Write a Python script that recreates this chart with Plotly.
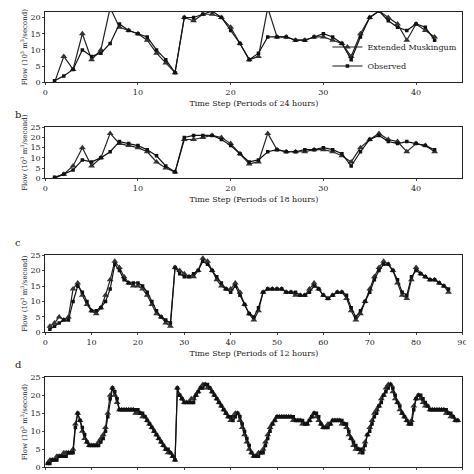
import plotly.graph_objects as go

# panel a: 24-hour periods
t_a = list(range(1, 43))
obs_a = [0.5, 2, 4, 10, 8, 9, 12, 18, 16, 15, 14, 10, 7, 3, 20, 20, 21, 22, 20, 16, 12, 7,
         9, 14, 14, 14, 13, 13, 14, 15, 14, 12, 7, 14, 20, 22, 19, 17, 16, 18, 17, 13]
mod_a = [0, 8, 4, 15, 7, 10, 23, 17, 16, 15, 13, 9, 6, 3, 20, 19, 21, 21, 20, 17, 12, 7,
         8, 23, 14, 14, 13, 13, 14, 14, 13, 12, 8, 15, 20, 22, 20, 18, 13, 18, 16, 14]

# panel b: 18-hour periods
t_b = list(range(1, 43))
obs_b = [0.5, 2, 4, 9, 8, 10, 13, 18, 17, 16, 14, 11, 6, 3, 20, 21, 21, 21, 19, 16, 12, 8,
         9, 13, 14, 13, 13, 14, 14, 15, 14, 12, 6, 13, 19, 21, 18, 17, 18, 17, 16, 14]
mod_b = [0, 2, 6, 15, 6, 10, 22, 17, 16, 15, 13, 8, 5, 3, 19, 19, 20, 21, 20, 17, 12, 7,
         8, 22, 14, 13, 13, 13, 14, 14, 13, 11, 8, 15, 19, 22, 19, 18, 13, 17, 16, 13]

# panel c: 12-hour periods
t_c = list(range(1, 88))
obs_c = [1, 2, 3, 4, 4, 10, 15, 13, 10, 7,
         7, 8, 10, 14, 22, 20, 17, 16, 16, 16,
         15, 13, 10, 7, 5, 4, 3,
         21, 19, 18, 18, 19, 20, 23, 22, 20, 18,
         16, 14, 13, 15, 12, 9, 6, 5, 8, 13,
         14, 14, 14, 14, 13, 13, 13, 12, 12, 13,
         15, 14, 12, 11, 12, 13, 13, 12, 8, 5,
         7, 10, 13, 17, 20, 22, 22, 20, 17, 13,
         12, 18, 20, 19, 18, 17, 17, 16, 15, 14]
mod_c = [2, 3, 5, 4, 5, 14, 16, 12, 9, 7,
         6, 8, 12, 17, 23, 21, 18, 16, 15, 15,
         14, 12, 9, 6, 5, 3, 2,
         21, 20, 19, 18, 18, 20, 24, 23, 20, 17,
         15, 14, 14, 16, 13, 9, 6, 4, 7, 13,
         14, 14, 14, 14, 13, 13, 12, 12, 12, 14,
         16, 14, 12, 11, 12, 13, 13, 11, 7, 4,
         6, 10, 14, 18, 21, 23, 22, 20, 16, 12,
         11, 17, 21, 19, 18, 17, 17, 16, 15, 13]

# panel d: 6-hour periods
t_d = list(range(1, 179))
obs_d = [1, 1, 2, 2, 2, 3, 3, 3, 3, 4, 4, 4,
         11, 15, 13, 11, 9, 7, 6, 6,
         6, 6, 6, 7, 8, 10, 14, 19, 22, 21,
         19, 16, 16, 16, 16, 16, 16, 16, 16, 16,
         15, 15, 14, 13, 12, 11, 10, 9, 8, 7, 6, 5, 5, 4, 3, 2,
         22, 20, 19, 18, 18, 18, 18, 18, 20, 21, 22, 22,
         23, 23, 22, 21, 20, 19, 18, 17, 16, 15, 14, 14, 13, 14,
         15, 14, 12, 10, 8, 6, 4, 3, 3, 3, 4, 4,
         6, 8, 10, 12, 13, 14, 14, 14, 14, 14, 14, 14, 14,
         13, 13, 13, 13, 12, 12, 13, 14, 15, 15, 14, 12, 11,
         11, 11, 12, 13, 13, 13, 13, 13, 12, 12, 10, 8, 7, 6, 5, 5,
         4, 6, 9, 10, 12, 14, 15, 17, 18, 20, 21, 22, 23,
         22, 20, 18, 17, 15, 14, 13, 12, 12, 16, 19, 20,
         20, 19, 18, 17, 16, 16, 16, 16, 16, 16, 16, 16, 15, 15, 14, 13, 13]
mod_d = [1, 2, 2, 2, 3, 3, 3, 4, 4, 4, 4, 5,
         12, 15, 13, 10, 8, 7, 6, 6,
         6, 6, 7, 8, 9, 11, 15, 20, 22, 20,
         18, 16, 16, 16, 16, 16, 16, 16, 15, 15,
         15, 14, 14, 13, 12, 11, 10, 9, 8, 7, 6, 5, 4, 4, 3, 2,
         22, 20, 19, 18, 18, 18, 19, 19, 20, 21, 22, 23,
         23, 22, 22, 21, 20, 19, 18, 17, 16, 15, 14, 13, 14, 15,
         15, 13, 11, 9, 7, 5, 4, 3, 3, 4, 4, 5,
         7, 9, 11, 12, 13, 14, 14, 14, 14, 14, 14, 14, 13,
         13, 13, 13, 12, 12, 12, 13, 14, 15, 14, 13, 12, 11,
         11, 12, 12, 13, 13, 13, 13, 12, 12, 11, 9, 8, 6, 5, 5, 4,
         5, 7, 9, 11, 13, 15, 16, 17, 19, 20, 22, 23, 23,
         21, 19, 18, 16, 15, 14, 13, 12, 13, 17, 19, 20,
         19, 18, 17, 17, 16, 16, 16, 16, 16, 16, 16, 15, 15, 14, 14, 13, 13]

panels = [
    ("a", t_a, obs_a, mod_a, [0, 45], 10, "Time Step (Periods of 24 hours)", [0.848, 1.0]),
    ("b", t_b, obs_b, mod_b, [0, 45], 10, "Time Step (Periods of 18 hours)", [0.641, 0.751]),
    ("c", t_c, obs_c, mod_c, [0, 90], 10, "Time Step (Periods of 12 hours)", [0.308, 0.475]),
    ("d", t_d, obs_d, mod_d, [0, 180], 20, None, [0.017, 0.211]),
]

FONT = "DejaVu Serif"
fig = go.Figure()
layout = {}
annotations = []

for i, (letter, t, obs, mod, xr, dt, xtitle, ydom) in enumerate(panels):
    n = "" if i == 0 else str(i + 1)
    xa, ya = "x" + n, "y" + n
    first = i == 0
    fig.add_trace(go.Scatter(x=t, y=mod, mode="lines+markers", name="Extended Muskingum",
                             xaxis=xa, yaxis=ya, showlegend=first,
                             line=dict(color="#222", width=1.2),
                             marker=dict(symbol="triangle-up", size=6, color="#333")))
    fig.add_trace(go.Scatter(x=t, y=obs, mode="lines+markers", name="Observed",
                             xaxis=xa, yaxis=ya, showlegend=first,
                             line=dict(color="#111", width=1.2),
                             marker=dict(symbol="square", size=3.5, color="#111")))
    axis = dict(showline=True, linecolor="#222", linewidth=1, mirror=True, showgrid=False,
                zeroline=False, ticks="outside", ticklen=2,
                tickfont=dict(size=8, family=FONT, color="#222"))
    layout["xaxis" + n] = dict(axis, range=xr, dtick=dt, domain=[0.074, 0.975], anchor=ya,
                               title=dict(text=xtitle, font=dict(size=8, family=FONT), standoff=4) if xtitle else None)
    layout["yaxis" + n] = dict(axis, range=[0, 21.7] if first else [0, 25], dtick=5, domain=ydom, anchor=xa,
                               title=dict(text="Flow (10<sup>3</sup> m<sup>3</sup>/second)",
                                          font=dict(size=7, family=FONT), standoff=2))
    if not first:
        annotations.append(dict(text=letter, x=0.005, y=ydom[1] + 0.012, xref="paper", yref="paper",
                                showarrow=False, font=dict(size=10, family=FONT, color="#222"),
                                xanchor="left", yanchor="bottom"))

fig.update_layout(
    width=474, height=474,
    margin=dict(l=0, r=0, t=0, b=0),
    paper_bgcolor="white", plot_bgcolor="white",
    font=dict(family=FONT, color="#222"),
    annotations=annotations,
    legend=dict(x=0.975, y=0.852, xanchor="right", yanchor="bottom", tracegroupgap=0,
                itemwidth=30, bgcolor="rgba(0,0,0,0)", font=dict(size=8, family=FONT)),
    **layout,
)

fig.write_html("out.html")
